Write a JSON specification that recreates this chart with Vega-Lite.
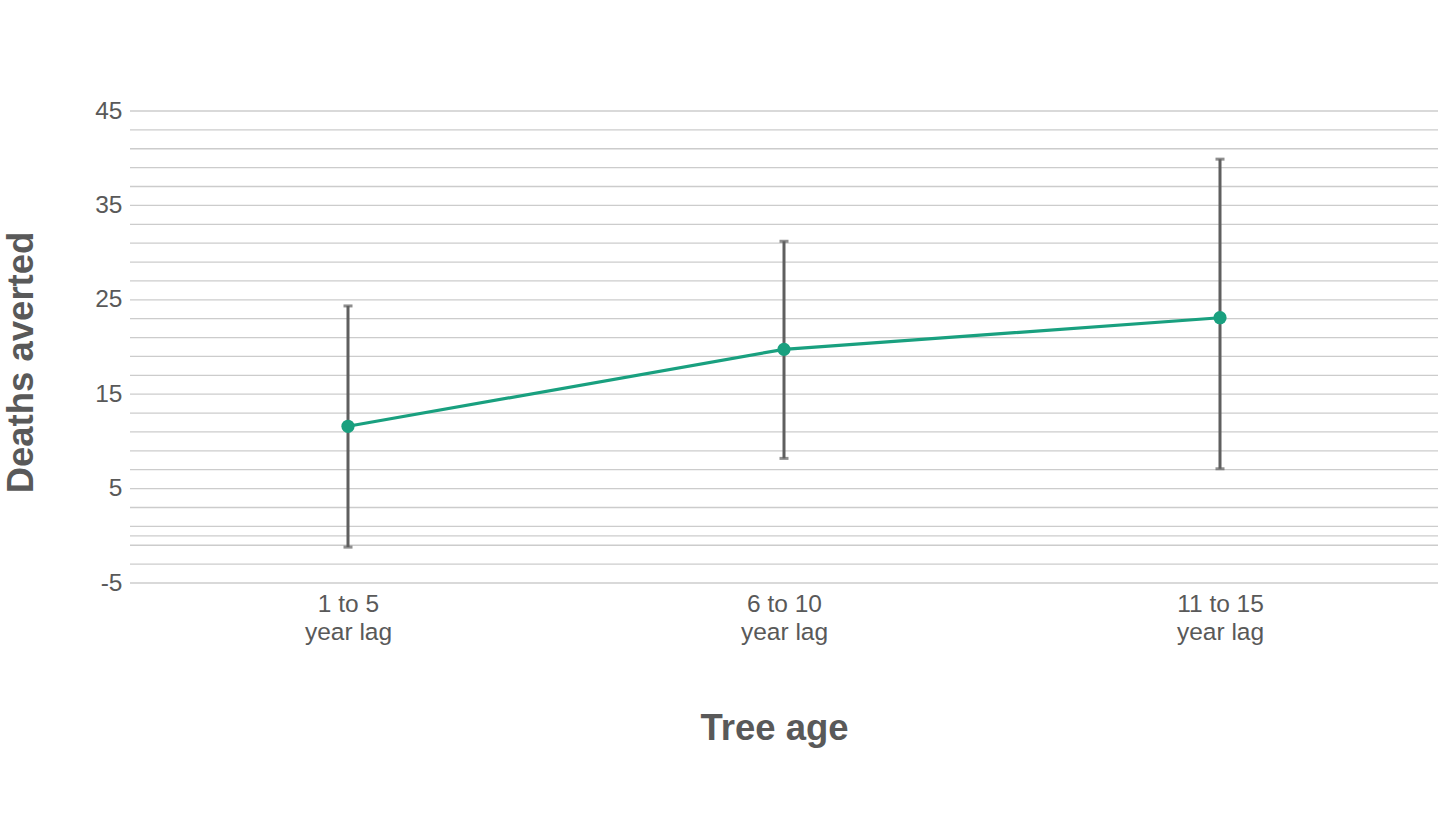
{
  "$schema": "https://vega.github.io/schema/vega-lite/v6.json",
  "width": 1308,
  "height": 472,
  "autosize": {"type": "none"},
  "padding": {"left": 130, "top": 111, "right": 12, "bottom": 233},
  "background": "white",
  "config": {
    "view": {"stroke": null},
    "font": "Liberation Sans"
  },
  "datasets": {
    "points": [
      {"lag": "1 to 5", "value": 11.6, "low": -1.2, "high": 24.35},
      {"lag": "6 to 10", "value": 19.75, "low": 8.2, "high": 31.2},
      {"lag": "11 to 15", "value": 23.1, "low": 7.1, "high": 39.9}
    ],
    "grid": [
      {"g": -5}, {"g": -3}, {"g": -1}, {"g": 0}, {"g": 1}, {"g": 3}, {"g": 5}, {"g": 7}, {"g": 9},
      {"g": 11}, {"g": 13}, {"g": 15}, {"g": 17}, {"g": 19}, {"g": 21}, {"g": 23}, {"g": 25},
      {"g": 27}, {"g": 29}, {"g": 31}, {"g": 33}, {"g": 35}, {"g": 37}, {"g": 39}, {"g": 41},
      {"g": 43}, {"g": 45}
    ]
  },
  "layer": [
    {
      "data": {"name": "grid"},
      "mark": {"type": "rule", "color": "#cccccc", "strokeWidth": 1.3},
      "encoding": {
        "y": {
          "field": "g",
          "type": "quantitative",
          "scale": {"domain": [-5, 45], "nice": false, "zero": false},
          "axis": {
            "title": "Deaths averted",
            "titleFont": "Liberation Sans",
            "titleFontSize": 36.5,
            "titleFontWeight": "bold",
            "titleColor": "#595959",
            "titleAngle": -90,
            "titleX": -98,
            "titleY": 251,
            "titleBaseline": "alphabetic",
            "titleAlign": "center",
            "values": [-5, 5, 15, 25, 35, 45],
            "labelExpr": "'' + datum.value",
            "labelOverlap": false,
            "labelFontSize": 24.5,
            "labelColor": "#595959",
            "labelPadding": 8,
            "domain": false,
            "ticks": false,
            "grid": false
          }
        }
      }
    },
    {
      "data": {"name": "points"},
      "encoding": {
        "x": {
          "field": "lag",
          "type": "ordinal",
          "sort": null,
          "scale": {"type": "point", "padding": 0.5},
          "axis": {
            "title": "Tree age",
            "titleFont": "Liberation Sans",
            "titleFontSize": 36.5,
            "titleFontWeight": "bold",
            "titleColor": "#595959",
            "titleX": 644,
            "titleY": 156,
            "titleBaseline": "alphabetic",
            "titleAnchor": null,
            "titleAlign": "center",
            "labelExpr": "[datum.label, 'year lag']",
            "labelFontSize": 24.5,
            "labelColor": "#595959",
            "labelLineHeight": 28,
            "labelPadding": 9,
            "labelAngle": 0,
            "domain": false,
            "ticks": false,
            "grid": false
          }
        }
      },
      "layer": [
        {
          "mark": {"type": "rule", "color": "#5f5f5f", "strokeWidth": 3},
          "encoding": {
            "y": {"field": "low", "type": "quantitative"},
            "y2": {"field": "high"}
          }
        },
        {
          "mark": {"type": "tick", "color": "#5f5f5f", "thickness": 3, "size": 9, "orient": "horizontal"},
          "encoding": {"y": {"field": "low", "type": "quantitative"}}
        },
        {
          "mark": {"type": "tick", "color": "#5f5f5f", "thickness": 3, "size": 9, "orient": "horizontal"},
          "encoding": {"y": {"field": "high", "type": "quantitative"}}
        },
        {
          "mark": {"type": "line", "color": "#19a07f", "strokeWidth": 3.2},
          "encoding": {"y": {"field": "value", "type": "quantitative"}}
        },
        {
          "mark": {"type": "point", "filled": true, "color": "#19a07f", "size": 175, "opacity": 1},
          "encoding": {"y": {"field": "value", "type": "quantitative"}}
        }
      ]
    }
  ]
}
